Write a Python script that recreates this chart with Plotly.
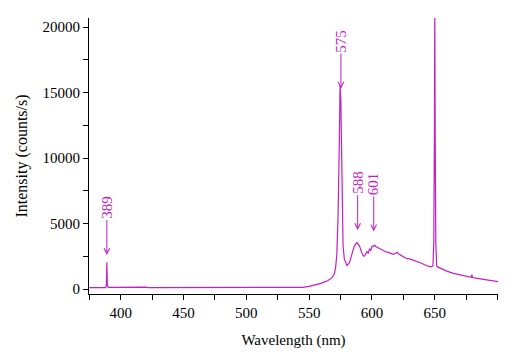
import plotly.graph_objects as go

wavelength = [375, 380, 385, 388, 388.6, 389, 389.4, 390, 395, 400, 405, 410, 412, 415, 418, 420, 422, 430, 450,
              480, 500, 520, 540, 545, 550, 555, 560, 565, 568, 570, 571, 572, 573, 574, 574.6, 575.2, 575.8, 576.4, 577, 578,
              579, 580, 582, 584, 586, 588, 590, 592, 593, 594, 595, 596, 597, 598, 599, 600, 601, 602, 603,
              605, 607, 609, 611, 613, 615, 617, 619, 620, 621, 623, 625, 627, 630, 633, 635, 638, 640, 643,
              645, 647, 648.5, 649.2, 649.7, 650, 650.3, 650.8, 651.5, 653, 655, 660, 665, 670, 675, 679,
              679.5, 680, 685, 690, 695, 700.5]
intensity = [110, 110, 110, 110, 300, 2050, 300, 120, 130, 140, 150, 170, 140, 160, 130, 150, 110, 110, 100,
             100, 100, 100, 110, 130, 200, 300, 450, 650, 850, 1150, 1600, 2600, 5500, 11000, 15500, 14500, 9000, 5200, 3300, 2300,
             1950, 1800, 2000, 2700, 3300, 3550, 3300, 2750, 2550, 2500, 2650, 2850, 2750, 3050, 2950, 3250, 3250, 3350, 3250,
             3150, 3050, 2900, 2850, 2800, 2700, 2650, 2750, 2800, 2700, 2600, 2450, 2350, 2300, 2200, 2100, 2000, 1950, 1800,
             1750, 1700, 1750, 3500, 12000, 21500, 12000, 3500, 1750, 1650, 1550, 1350, 1200, 1100, 950, 900,
             1100, 880, 800, 720, 650, 560]

x_ticks = [400, 450, 500, 550, 600, 650]
y_ticks = [0, 5000, 10000, 15000, 20000]

labels = ["389", "575", "588", "601"]
label_x = [389, 575.3, 588.6, 601.4]
label_y = [2600, 15300, 4500, 4400]

color = "#c41ec4"
serif = "Liberation Serif, Times New Roman, serif"

fig = go.Figure()
fig.add_trace(go.Scatter(x=wavelength, y=intensity, mode="lines",
                         line=dict(color=color, width=1.2), showlegend=False))

for t, x, y in zip(labels, label_x, label_y):
    fig.add_annotation(x=x, y=y, text=t, textangle=-90, showarrow=True,
                       arrowhead=5, arrowsize=1.1, arrowwidth=1, arrowcolor=color,
                       ax=0, ay=-48, font=dict(family=serif, size=15, color=color))

fig.update_layout(
    width=515, height=358,
    margin=dict(l=89, r=17, t=18, b=64),
    paper_bgcolor="white", plot_bgcolor="white",
    font=dict(family=serif, size=15, color="black"),
    xaxis=dict(range=[374.8, 700.3], tickvals=x_ticks, ticktext=[str(v) for v in x_ticks],
               tickfont=dict(family=serif, size=15, color="black"),
               showline=True, linecolor="black", linewidth=1, ticks="outside", ticklen=5,
               tickcolor="black", showgrid=False, zeroline=False,
               minor=dict(ticks="outside", ticklen=5, dtick=25, tick0=375, tickcolor="black"),
               title=dict(text="Wavelength (nm)", font=dict(family=serif, size=15, color="black"), standoff=14)),
    yaxis=dict(range=[-380, 20700], tickvals=y_ticks, ticktext=[str(v) for v in y_ticks],
               tickfont=dict(family=serif, size=15, color="black"),
               showline=True, linecolor="black", linewidth=1, ticks="outside", ticklen=5,
               tickcolor="black", showgrid=False, zeroline=False,
               minor=dict(ticks="outside", ticklen=5, dtick=2500, tick0=0, tickcolor="black"),
               title=dict(text="Intensity (counts/s)", font=dict(family=serif, size=16, color="black"), standoff=10)),
)

fig.write_html("out.html")
